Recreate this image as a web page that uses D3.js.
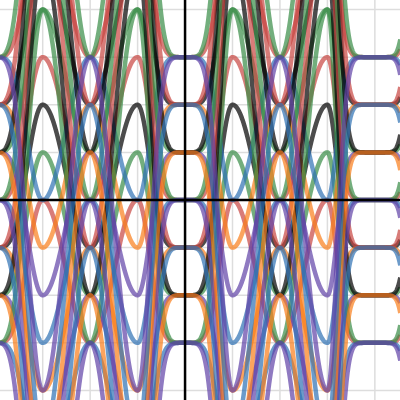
<!DOCTYPE html>
<html><head><meta charset="utf-8">
<script src="https://cdn.jsdelivr.net/npm/d3@7"></script>
<style>body{margin:0;background:#fff}</style></head>
<body><svg id="c" width="400" height="400"></svg>
<script>
// curve family: y = level + sign * amp * |sin(pi x / 2)|^power, power depends on region
const levels = [-3, -2, -1, 0, 1, 2, 3];
const signs = [1, -1];
const amps = [3, 7];
const centers = [-4, -2, 0, 2, 4];
const powers = [4, 2, 6, 2, 10];
const colors = ["#c74440", "#2d70b3", "#388c46", "#6042a6", "#000000", "#fa7e19"];
const gridTicks = [-4, -3, -2, -1, 1, 2, 3, 4];

const x = d3.scaleLinear([-3.9, 4.53], [0, 400]);
const y = d3.scaleLinear([-4.2, 4.2], [400, 0]);
const svg = d3.select("#c");

svg.selectAll(".gx").data(gridTicks).enter().append("line")
  .attr("x1", d => x(d)).attr("x2", d => x(d)).attr("y1", 0).attr("y2", 400)
  .attr("stroke", "#ddd").attr("stroke-width", 1.5);
svg.selectAll(".gy").data(gridTicks).enter().append("line")
  .attr("y1", d => y(d)).attr("y2", d => y(d)).attr("x1", 0).attr("x2", 400)
  .attr("stroke", "#ddd").attr("stroke-width", 1.5);

const xs = d3.range(-3.9, 4.54, 0.004);
const curves = [];
let i = 0;
amps.forEach(a => levels.forEach(k => signs.forEach(s => {
  curves.push({k, s, a, color: colors[i++ % colors.length]});
})));

function h(v) {
  const j = d3.minIndex(centers, c => Math.abs(c - v));
  return Math.abs(Math.sin(Math.PI * v / 2)) ** powers[j];
}

const line = d3.line().x(d => x(d[0])).y(d => y(d[1]));
svg.selectAll(".curve").data(curves).enter().append("path")
  .attr("d", c => line(xs.map(v => [v, Math.max(-6, Math.min(6, c.k + c.s * c.a * h(v)))])))
  .attr("fill", "none").attr("stroke", c => c.color)
  .attr("stroke-width", 4.5).attr("stroke-opacity", 0.7);

svg.append("line").attr("x1", x(0)).attr("x2", x(0)).attr("y1", 0).attr("y2", 400)
  .attr("stroke", "#000").attr("stroke-width", 2.5);
svg.append("line").attr("y1", y(0)).attr("y2", y(0)).attr("x1", 0).attr("x2", 400)
  .attr("stroke", "#000").attr("stroke-width", 2.5);
</script></body></html>
